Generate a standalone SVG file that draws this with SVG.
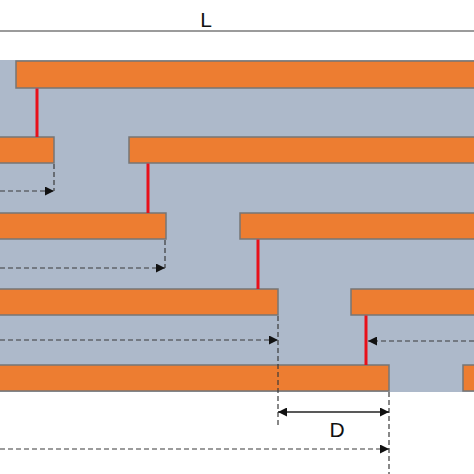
<svg xmlns="http://www.w3.org/2000/svg" width="474" height="474" viewBox="0 0 474 474">
<defs>
<style>
.bar{fill:#ED7D31;stroke:#767676;stroke-width:1.5}
.tie{stroke:#E8101A;stroke-width:3}
.dash{fill:none;stroke:#3a3a3a;stroke-width:1.2;stroke-dasharray:5 3}
.dim{fill:none;stroke:#222;stroke-width:1.3}
.lbl{font-family:"Liberation Sans",Arial,sans-serif;font-size:21px;fill:#111}
</style>
<marker id="ah" viewBox="0 0 10 10" refX="10" refY="5" markerWidth="9" markerHeight="9" markerUnits="userSpaceOnUse" orient="auto-start-reverse">
<path d="M0,0 L10,5 L0,10 Z" fill="#111"/>
</marker>
</defs>
<rect width="474" height="474" fill="#fff"/>
<line x1="0" y1="31" x2="474" y2="31" stroke="#7a7a7a" stroke-width="1.5"/>
<text class="lbl" x="206" y="27" text-anchor="middle">L</text>
<rect x="0" y="60" width="474" height="332" fill="#ADB9CA"/>
<g id="bar1"><rect class="bar" x="16" y="61" width="470" height="27"/></g>
<g id="bar2a"><rect class="bar" x="-10" y="137" width="64" height="26"/></g>
<g id="bar2b"><rect class="bar" x="129" y="137" width="357" height="26"/></g>
<g id="bar3a"><rect class="bar" x="-10" y="213" width="176" height="26"/></g>
<g id="bar3b"><rect class="bar" x="240" y="213" width="246" height="26"/></g>
<g id="bar4a"><rect class="bar" x="-10" y="289" width="288" height="26"/></g>
<g id="bar4b"><rect class="bar" x="351" y="289" width="135" height="26"/></g>
<g id="bar5a"><rect class="bar" x="-10" y="365" width="399" height="26"/></g>
<g id="bar5b"><rect class="bar" x="463" y="365" width="23" height="26"/></g>
<g id="connectors">
<line class="tie" x1="37" y1="88.5" x2="37" y2="137"/>
<line class="tie" x1="148" y1="163.5" x2="148" y2="213"/>
<line class="tie" x1="258" y1="239.5" x2="258" y2="289"/>
<line class="tie" x1="366" y1="315.5" x2="366" y2="365"/>
<line class="dash" x1="54" y1="164" x2="54" y2="191"/>
<line class="dash" x1="0" y1="191" x2="54" y2="191" marker-end="url(#ah)"/>
<line class="dash" x1="165" y1="240" x2="165" y2="268"/>
<line class="dash" x1="0" y1="268" x2="165" y2="268" marker-end="url(#ah)"/>
<line class="dash" x1="278" y1="316" x2="278" y2="427"/>
<line class="dash" x1="0" y1="340" x2="278" y2="340" marker-end="url(#ah)"/>
<line class="dash" x1="474" y1="341" x2="368" y2="341" marker-end="url(#ah)"/>
<line class="dash" x1="389" y1="392" x2="389" y2="474"/>
<line class="dash" x1="0" y1="449" x2="389" y2="449" marker-end="url(#ah)"/>
<line class="dim" x1="278" y1="412" x2="389" y2="412" marker-start="url(#ah)" marker-end="url(#ah)"/>
</g>
<text class="lbl" x="337" y="437" text-anchor="middle">D</text>
</svg>
